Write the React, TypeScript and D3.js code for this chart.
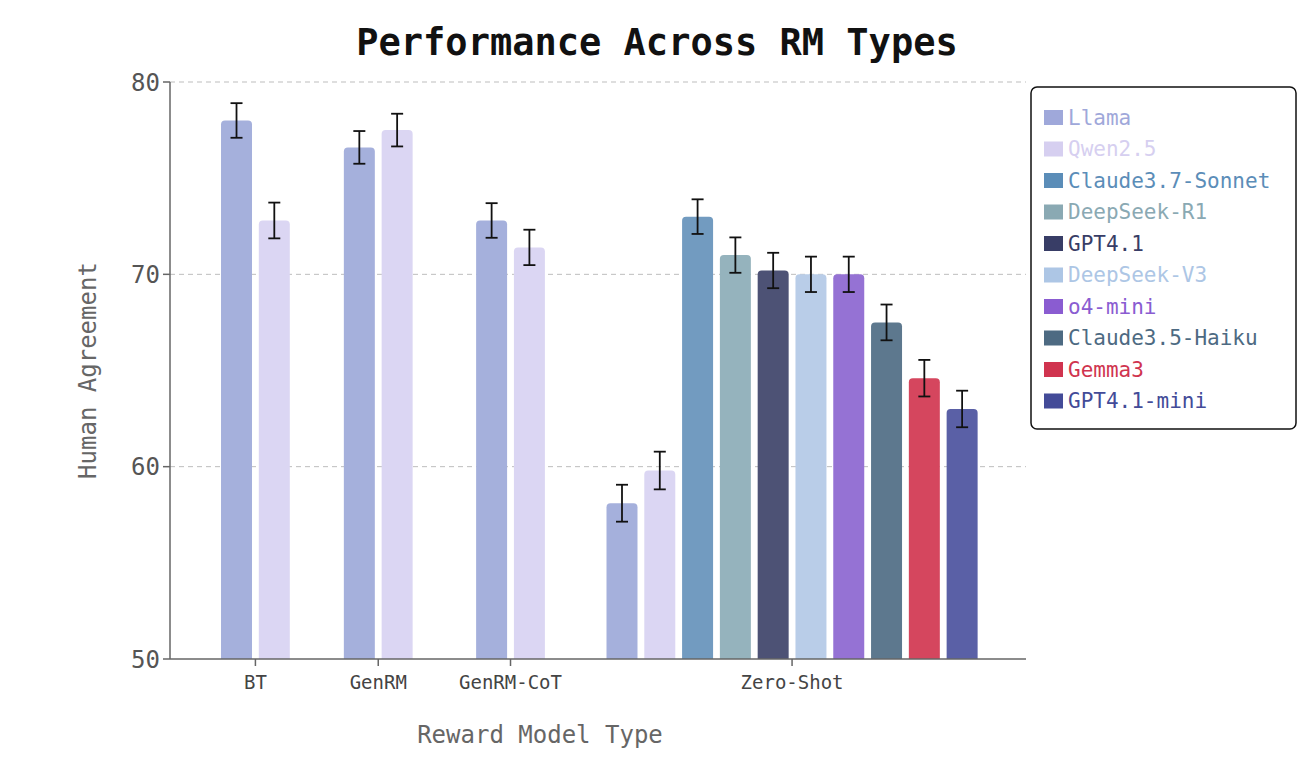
import * as React from 'react';
import { scaleLinear } from 'd3';

const groups = ['BT', 'GenRM', 'GenRM-CoT', 'Zero-Shot'];
const models = [
  'Llama', 'Qwen2.5', 'Claude3.7-Sonnet', 'DeepSeek-R1', 'GPT4.1',
  'DeepSeek-V3', 'o4-mini', 'Claude3.5-Haiku', 'Gemma3', 'GPT4.1-mini',
];
const legendColors = [
  '#9fa8da', '#d6cff0', '#5b8db8', '#8aa9b3', '#383d66',
  '#adc6e5', '#8a5cd1', '#4d6a82', '#d0344f', '#434b98',
];
const barColors = [
  '#a5b0dc', '#dbd6f3', '#729bc0', '#95b3bd', '#4d5275',
  '#b9cde8', '#9572d4', '#5d788e', '#d5465e', '#5a60a6',
];

// per group: model indices, means, error half-widths
const groupModels = [[0, 1], [0, 1], [0, 1], [0, 1, 2, 3, 4, 5, 6, 7, 8, 9]];
const groupMeans = [
  [78.0, 72.8],
  [76.6, 77.5],
  [72.8, 71.4],
  [58.1, 59.8, 73.0, 71.0, 70.2, 70.0, 70.0, 67.5, 64.6, 63.0],
];
const groupErrs = [
  [0.9, 0.93],
  [0.85, 0.85],
  [0.9, 0.92],
  [0.96, 0.98, 0.9, 0.92, 0.92, 0.92, 0.92, 0.93, 0.95, 0.95],
];
const yTicks = [50, 60, 70, 80];
// spacing (in bar slots) between consecutive groups
const groupGaps = [2.25, 2.5, 2.45];

export default function App() {
  const W = 1311, H = 776;
  const left = 170, right = 1026, top = 82, bottom = 659;
  const x = scaleLinear().domain([-1.76, 20.89]).range([left, right]);
  const y = scaleLinear().domain([50, 80]).range([bottom, top]);
  const slot = x(1) - x(0);
  const bw = slot * 0.82;
  const font = "'DejaVu Sans Mono', 'Liberation Mono', monospace";

  // slot offsets for each group
  const starts: number[] = [];
  let s = 0;
  groupModels.forEach((g, gi) => {
    starts.push(s);
    s += g.length - 1 + (groupGaps[gi] ?? 0);
  });

  const barPath = (x0: number, y0: number, w: number, h: number, r: number) =>
    `M${x0},${y0 + h}V${y0 + r}Q${x0},${y0} ${x0 + r},${y0}H${x0 + w - r}Q${x0 + w},${y0} ${x0 + w},${y0 + r}V${y0 + h}Z`;

  return (
    <svg width={W} height={H} style={{ position: 'absolute', left: 0, top: 0, background: '#fff' }}>
      <text x={657} y={55} textAnchor="middle" fontFamily={font} fontWeight="bold" fontSize={37} fill="#111">
        Performance Across RM Types
      </text>

      {yTicks.filter((t) => t > 50).map((t) => (
        <line key={t} x1={left} x2={right} y1={y(t)} y2={y(t)} stroke="#bdbdbd" strokeWidth={1} strokeDasharray="5,4" />
      ))}

      {groupModels.map((g, gi) =>
        g.map((mi, k) => {
          const cx = x(starts[gi] + k);
          const v = groupMeans[gi][k];
          const e = groupErrs[gi][k];
          return (
            <g key={`${gi}-${k}`}>
              <path d={barPath(cx - bw / 2, y(v), bw, bottom - y(v), 4)} fill={barColors[mi]} />
              <line x1={cx} x2={cx} y1={y(v + e)} y2={y(v - e)} stroke="#111" strokeWidth={1.8} />
              <line x1={cx - 6} x2={cx + 6} y1={y(v + e)} y2={y(v + e)} stroke="#111" strokeWidth={1.8} />
              <line x1={cx - 6} x2={cx + 6} y1={y(v - e)} y2={y(v - e)} stroke="#111" strokeWidth={1.8} />
            </g>
          );
        })
      )}

      <line x1={left} x2={left} y1={top} y2={bottom} stroke="#666" strokeWidth={1.5} />
      <line x1={left} x2={right} y1={bottom} y2={bottom} stroke="#666" strokeWidth={1.5} />

      {yTicks.map((t) => (
        <g key={t}>
          <line x1={left - 7} x2={left} y1={y(t)} y2={y(t)} stroke="#666" strokeWidth={1.5} />
          <text x={left - 10} y={y(t)} dy="0.36em" textAnchor="end" fontFamily={font} fontSize={24} fill="#555">
            {t}
          </text>
        </g>
      ))}

      {groups.map((gName, gi) => {
        const cx = x(starts[gi] + (groupModels[gi].length - 1) / 2);
        return (
          <g key={gName}>
            <line x1={cx} x2={cx} y1={bottom} y2={bottom + 7} stroke="#666" strokeWidth={1.5} />
            <text x={cx} y={689} textAnchor="middle" fontFamily={font} fontSize={19} fill="#444">
              {gName}
            </text>
          </g>
        );
      })}

      <text x={540} y={743} textAnchor="middle" fontFamily={font} fontSize={24} fill="#666">
        Reward Model Type
      </text>
      <text transform={`translate(96, ${(top + bottom) / 2}) rotate(-90)`} textAnchor="middle" fontFamily={font} fontSize={24} fill="#666">
        Human Agreement
      </text>

      <rect x={1031} y={87} width={265} height={342} rx={6} fill="#fff" stroke="#111" strokeWidth={1.5} />
      {models.map((m, i) => {
        const ly = 117 + i * 31.5;
        return (
          <g key={m}>
            <rect x={1044} y={ly - 7} width={19} height={15} fill={legendColors[i]} />
            <text x={1068} y={ly} dy="0.36em" fontFamily={font} fontSize={21} fill={legendColors[i]}>
              {m}
            </text>
          </g>
        );
      })}
    </svg>
  );
}
